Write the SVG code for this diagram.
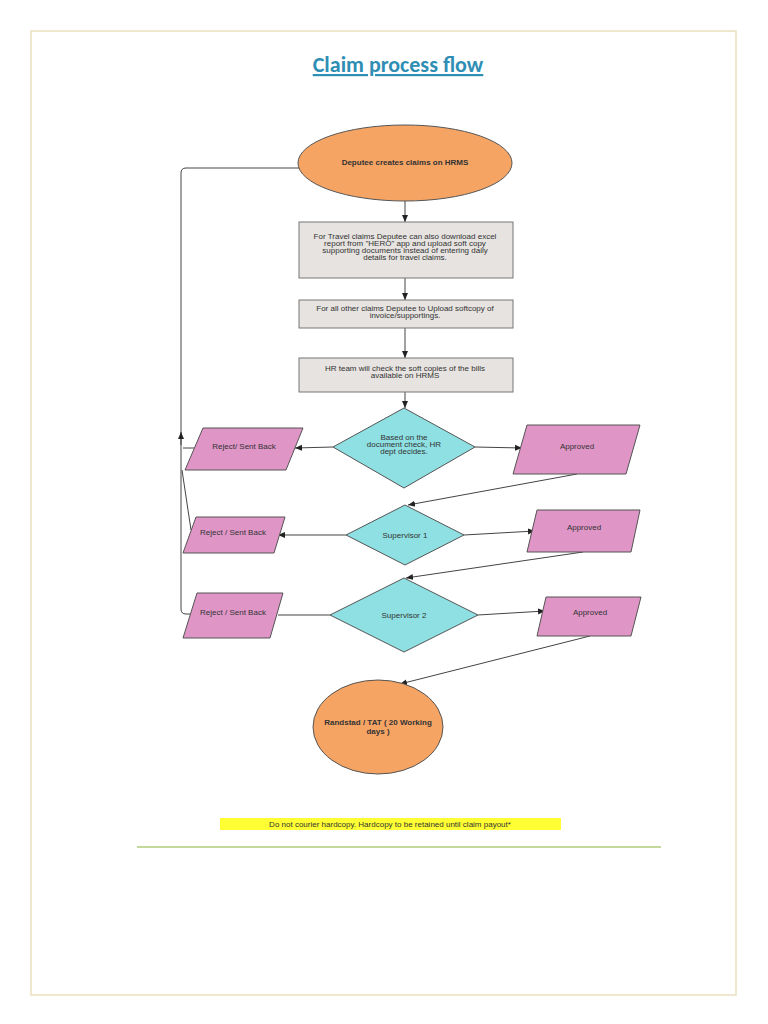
<svg xmlns="http://www.w3.org/2000/svg" width="768" height="1024" viewBox="0 0 768 1024">
<defs>
<marker id="ah" markerWidth="8" markerHeight="8" refX="7" refY="4" orient="auto" markerUnits="userSpaceOnUse"><path d="M0,1 L7,4 L0,7 Z" fill="#222"/></marker>
<style>
.t{font-family:"Liberation Sans",Arial,sans-serif;font-size:8px;fill:#333;text-anchor:middle}
.b{font-weight:bold}
.ell{fill:#f6a463;stroke:#555;stroke-width:1}
.box{fill:#e6e3e0;stroke:#777;stroke-width:1}
.dia{fill:#8ee0e2;stroke:#555;stroke-width:1}
.par{fill:#df95c6;stroke:#555;stroke-width:1}
.c{fill:none;stroke:#444;stroke-width:1}
</style>
</defs>
<rect width="768" height="1024" fill="#fff"/>
<rect x="31" y="31" width="705" height="964" fill="none" stroke="#eadfbf" stroke-width="1.5"/>
<text x="398" y="72" font-family="Carlito,'Open Sans','Liberation Sans',sans-serif" font-size="22" font-weight="bold" fill="#2f8eb3" text-anchor="middle" text-decoration="underline">Claim process flow</text>

<g id="connectors">
<path class="c" d="M299,168 H186 Q181,168 181,173 V609 Q181,614 186,614 H190"/>
<path class="c" d="M181,445 V432" marker-end="url(#ah)"/>
<path class="c" d="M183,448 H194"/>
<path class="c" d="M182,470 L191,530"/>
<path class="c" d="M405,201 V222" marker-end="url(#ah)"/>
<path class="c" d="M405,278 V300" marker-end="url(#ah)"/>
<path class="c" d="M405,328 V358" marker-end="url(#ah)"/>
<path class="c" d="M405,392 V408" marker-end="url(#ah)"/>
<path class="c" d="M333,447 L295,448" marker-end="url(#ah)"/>
<path class="c" d="M475,447 L522,448" marker-end="url(#ah)"/>
<path class="c" d="M577,474 L408,505" marker-end="url(#ah)"/>
<path class="c" d="M346,535 L278,535" marker-end="url(#ah)"/>
<path class="c" d="M464,535 L535,531" marker-end="url(#ah)"/>
<path class="c" d="M583,552 L406,578" marker-end="url(#ah)"/>
<path class="c" d="M330,615 L278,615"/>
<path class="c" d="M478,615 L545,611" marker-end="url(#ah)"/>
<path class="c" d="M590,636 L400,684" marker-end="url(#ah)"/>
</g>

<g id="n1"><ellipse class="ell" cx="405" cy="163" rx="107" ry="38"/><text class="t b" x="405" y="165">Deputee creates claims on HRMS</text></g>
<g id="n2"><rect class="box" x="299" y="222" width="214" height="56"/>
<text class="t" x="405" y="239">For Travel claims Deputee can also download excel</text>
<text class="t" x="405" y="246">report from "HERO" app and upload soft copy</text>
<text class="t" x="405" y="253">supporting documents instead of entering daily</text>
<text class="t" x="405" y="260">details for travel claims.</text></g>
<g id="n3"><rect class="box" x="299" y="300" width="214" height="28"/>
<text class="t" x="405" y="311">For all other claims Deputee to Upload softcopy of</text>
<text class="t" x="405" y="318">invoice/supportings.</text></g>
<g id="n4"><rect class="box" x="299" y="358" width="214" height="34"/>
<text class="t" x="405" y="371">HR team will check the soft copies of the bills</text>
<text class="t" x="405" y="378">available on HRMS</text></g>
<g id="d1"><polygon class="dia" points="404,408 475,447 404,488 333,447"/>
<text class="t" x="404" y="440">Based on the</text><text class="t" x="404" y="447">document check, HR</text><text class="t" x="404" y="454">dept decides.</text></g>
<g id="r1"><polygon class="par" points="203,428 303,428 286,470 185,470"/><text class="t" x="244" y="449">Reject/ Sent Back</text></g>
<g id="a1"><polygon class="par" points="527,425 640,425 626,474 513,474"/><text class="t" x="577" y="449">Approved</text></g>
<g id="d2"><polygon class="dia" points="405,505 464,535 405,565 346,535"/><text class="t" x="405" y="538">Supervisor 1</text></g>
<g id="r2"><polygon class="par" points="196,517 285,517 274,553 183,553"/><text class="t" x="233" y="535">Reject / Sent Back</text></g>
<g id="a2"><polygon class="par" points="537,510 640,510 631,552 527,552"/><text class="t" x="584" y="530">Approved</text></g>
<g id="d3"><polygon class="dia" points="404,578 478,615 404,652 330,615"/><text class="t" x="404" y="618">Supervisor 2</text></g>
<g id="r3"><polygon class="par" points="197,593 283,593 270,638 183,638"/><text class="t" x="233" y="615">Reject / Sent Back</text></g>
<g id="a3"><polygon class="par" points="546,597 641,597 631,636 537,636"/><text class="t" x="590" y="615">Approved</text></g>
<g id="n5"><ellipse class="ell" cx="378" cy="727" rx="65" ry="47"/>
<text class="t b" x="378" y="725">Randstad / TAT ( 20 Working</text><text class="t b" x="378" y="734">days )</text></g>

<rect x="220" y="818" width="341" height="12" fill="#ffff33"/>
<text class="t" x="390" y="827" font-size="9">Do not courier hardcopy. Hardcopy to be retained until claim payout*</text>
<line x1="137" y1="847" x2="661" y2="847" stroke="#8db33a" stroke-width="1.2"/>
</svg>
